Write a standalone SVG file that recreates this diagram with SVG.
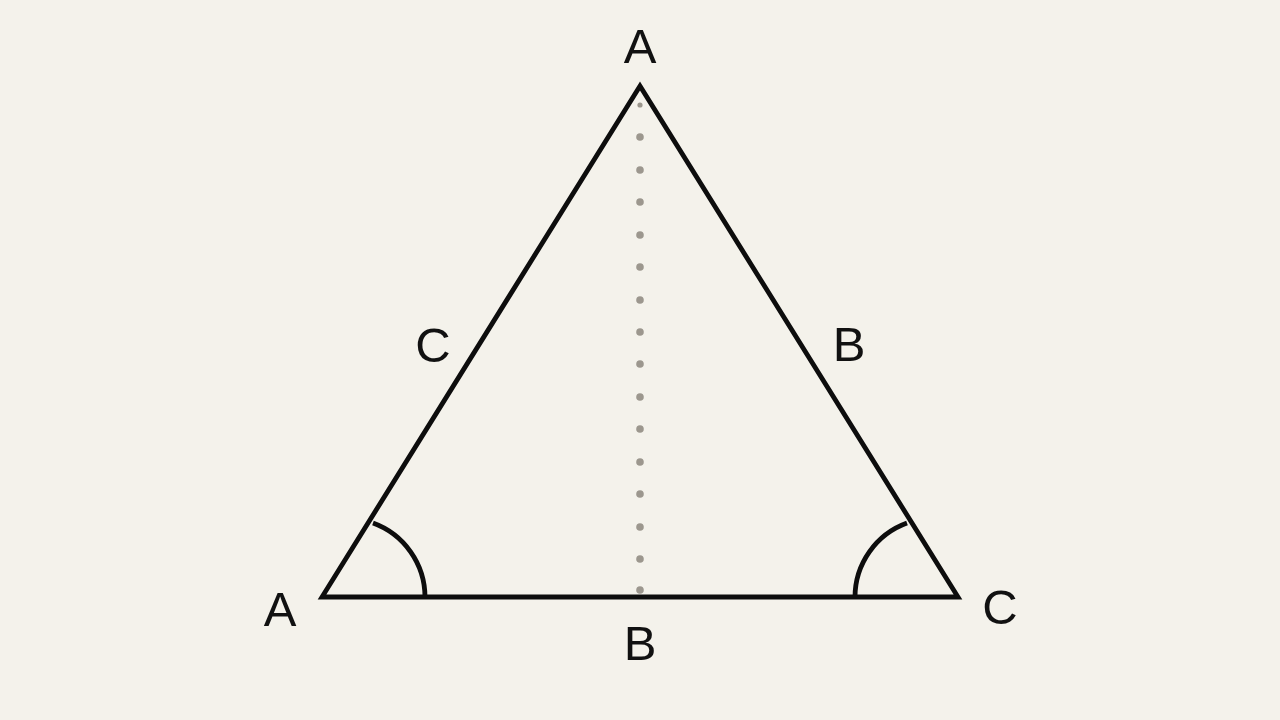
<svg xmlns="http://www.w3.org/2000/svg" width="1280" height="720" viewBox="0 0 1280 720">
<style>
.lbl{font-family:"Liberation Sans",Arial,sans-serif;font-size:49px;fill:#111;text-anchor:middle}
.edge{fill:none;stroke:#0d0d0d;stroke-width:4.8;stroke-linejoin:miter}
.arc{fill:none;stroke:#0d0d0d;stroke-width:4.8}
.dot{fill:#9c978e}
</style>
<rect width="1280" height="720" fill="#f4f2eb"/>
<g id="connectors">
<g id="altitude">
<circle class="dot" cx="640" cy="105" r="2.6"/>
<circle class="dot" cx="640" cy="137" r="3.8"/>
<circle class="dot" cx="640" cy="170" r="3.8"/>
<circle class="dot" cx="640" cy="202" r="3.8"/>
<circle class="dot" cx="640" cy="235" r="3.8"/>
<circle class="dot" cx="640" cy="267" r="3.8"/>
<circle class="dot" cx="640" cy="300" r="3.8"/>
<circle class="dot" cx="640" cy="332" r="3.8"/>
<circle class="dot" cx="640" cy="364" r="3.8"/>
<circle class="dot" cx="640" cy="397" r="3.8"/>
<circle class="dot" cx="640" cy="429" r="3.8"/>
<circle class="dot" cx="640" cy="462" r="3.8"/>
<circle class="dot" cx="640" cy="494" r="3.8"/>
<circle class="dot" cx="640" cy="527" r="3.8"/>
<circle class="dot" cx="640" cy="559" r="3.8"/>
<circle class="dot" cx="640" cy="590" r="3.8"/>
</g>
<path id="triangle" class="edge" d="M640 86 L958 597 L322 597 Z"/>
<path id="angle-left" class="arc" d="M425 597 A79 79 0 0 0 373 523"/>
<path id="angle-right" class="arc" d="M855 597 A79 79 0 0 1 907 523"/>
</g>
<g id="label-top"><text class="lbl" x="640" y="63">A</text></g>
<g id="label-left-side"><text class="lbl" x="433" y="362">C</text></g>
<g id="label-right-side"><text class="lbl" x="849" y="361">B</text></g>
<g id="label-bottom-left"><text class="lbl" x="280" y="626">A</text></g>
<g id="label-bottom-right"><text class="lbl" x="1000" y="624">C</text></g>
<g id="label-bottom"><text class="lbl" x="640" y="660">B</text></g>
</svg>
